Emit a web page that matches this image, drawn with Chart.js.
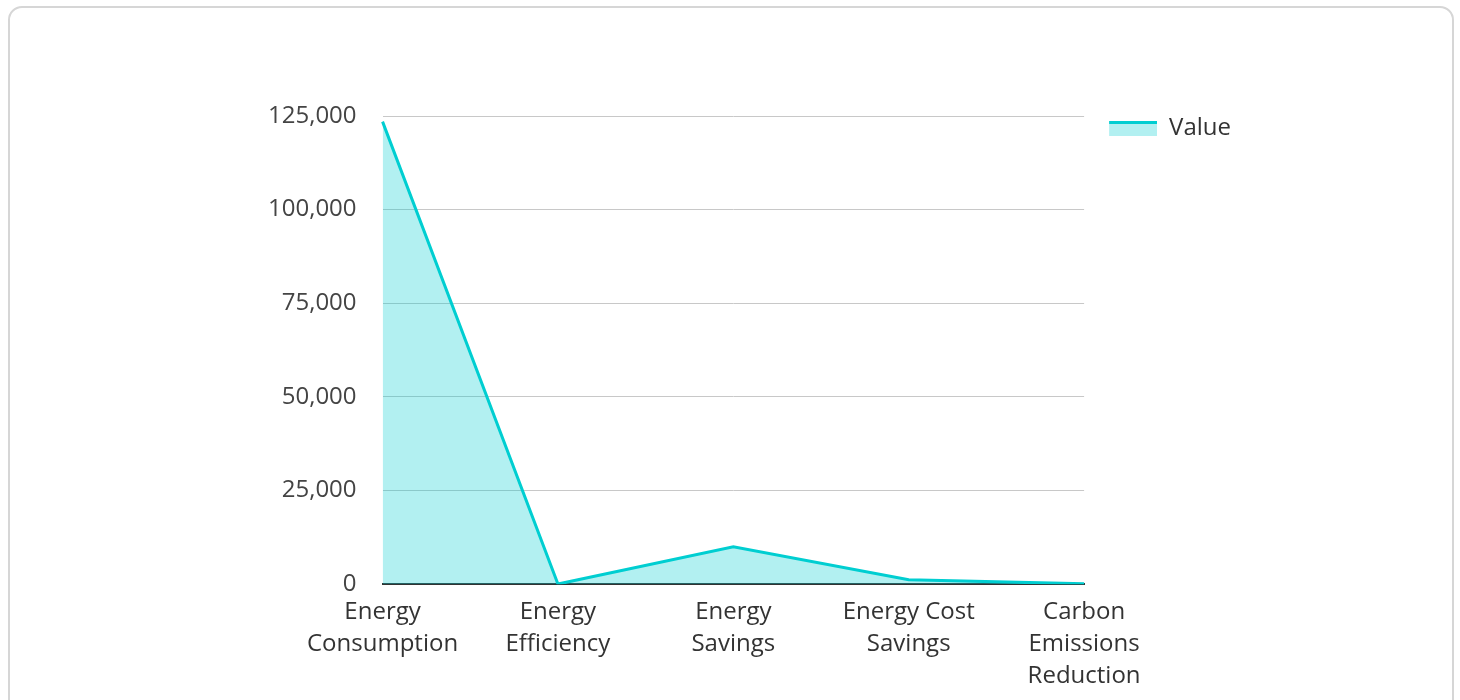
<!DOCTYPE html>
<html>
<head>
<meta charset="utf-8">
<script src="https://cdn.jsdelivr.net/npm/chart.js@4.4.0/dist/chart.umd.min.js"></script>
<style>
  html, body { margin: 0; padding: 0; background: #fff; }
  .card {
    position: absolute; left: 8px; top: 6px; width: 1446px; height: 720px;
    border: 2px solid #d6d6d6; border-radius: 14px; box-sizing: border-box;
  }
  .wrap { position: absolute; left: 10px; top: 8px; width: 1440px; height: 692px; }
</style>
</head>
<body>
<div class="card"></div>
<div class="wrap"><canvas id="lineChart"></canvas></div>
<script>
  var categories = [
    ['Energy', 'Consumption'],
    ['Energy', 'Efficiency'],
    ['Energy', 'Savings'],
    ['Energy Cost', 'Savings'],
    ['Carbon', 'Emissions', 'Reduction']
  ];
  var values = [123500, 50, 10000, 1200, 100];
  var seriesName = 'Value';

  var lineColor = '#00CED1';
  var fillColor = 'rgba(0, 206, 209, 0.3)';

  // legend swatch: line on top, area fill below (with a left gap)
  var swatch = document.createElement('canvas');
  swatch.width = 73;
  swatch.height = 16;
  var sctx = swatch.getContext('2d');
  sctx.fillStyle = fillColor;
  sctx.fillRect(25, 2, 48, 14);
  sctx.fillStyle = lineColor;
  sctx.fillRect(25, 1, 48, 3);

  Chart.defaults.font.family = '"Open Sans", "Noto Sans", sans-serif';
  Chart.defaults.font.size = 24;
  Chart.defaults.font.lineHeight = 1.33;
  Chart.defaults.color = '#444';

  var ctx = document.getElementById('lineChart').getContext('2d');
  var myLineChart = new Chart(ctx, {
    type: 'line',
    data: {
      labels: categories,
      datasets: [
        {
          label: seriesName,
          data: values,
          borderColor: lineColor,
          backgroundColor: fillColor,
          borderWidth: 3,
          fill: true,
          tension: 0,
          pointRadius: 0,
          pointStyle: swatch,
        },
      ],
    },
    options: {
      responsive: true,
      maintainAspectRatio: false,
      animation: false,
      layout: { padding: { left: 232, right: 209, top: 108, bottom: 4 } },
      plugins: {
        legend: {
          position: 'right',
          align: 'start',
          labels: {
            usePointStyle: true,
            pointStyleWidth: 73,
            boxHeight: 16,
            padding: 0,
            color: '#333',
            font: { size: 24, lineHeight: 1 },
          },
        },
        tooltip: { enabled: false },
      },
      scales: {
        x: {
          grid: { display: false },
          border: { color: '#333', width: 2 },
          ticks: { color: '#333', maxRotation: 0, padding: 4 },
        },
        y: {
          min: 0,
          max: 125000,
          ticks: { stepSize: 25000, color: '#444', padding: 26 },
          grid: { color: '#c8c8c8', lineWidth: 1, drawTicks: false },
          border: { display: false },
        },
      },
    },
  });
</script>
</body>
</html>
